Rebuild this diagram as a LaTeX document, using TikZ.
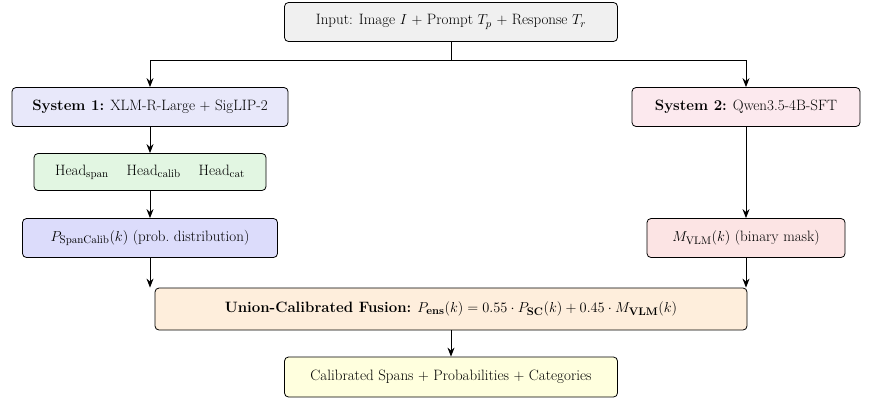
\documentclass[tikz,border=0pt]{standalone}
\usetikzlibrary{arrows.meta}
\begin{document}
\begin{tikzpicture}[x=1pt,y=-1pt,
 box/.style={draw,line width=0.8pt,rounded corners=4pt,inner sep=0pt,font=\fontsize{15}{18}\selectfont},
 arr/.style={-{Stealth[length=9pt,width=7pt]},line width=1pt}]
\useasboundingbox (0,0) rectangle (870,416);
\definecolor{cin}{HTML}{F0F0F0}\definecolor{cs1}{HTML}{E8E8FA}\definecolor{cs2}{HTML}{FCE9EE}
\definecolor{chd}{HTML}{E2F6E2}\definecolor{cp}{HTML}{DCDCFB}\definecolor{cm}{HTML}{FCE4E4}
\definecolor{cf}{HTML}{FEEEDC}\definecolor{co}{HTML}{FFFFDE}
\node[box,fill=cin,minimum width=333pt,minimum height=39pt] (in) at (451,22) {Input: Image $I$ + Prompt $T_p$ + Response $T_r$};
\node[box,fill=cs1,minimum width=276pt,minimum height=39pt] (s1) at (150,107) {\textbf{System 1:} XLM-R-Large + SigLIP-2};
\node[box,fill=cs2,minimum width=228pt,minimum height=39pt] (s2) at (746,107) {\textbf{System 2:} Qwen3.5-4B-SFT};
\node[box,fill=chd,minimum width=232pt,minimum height=37pt] (hd) at (150,172) {Head$_{\mathrm{span}}$\hspace{18pt}Head$_{\mathrm{calib}}$\hspace{18pt}Head$_{\mathrm{cat}}$};
\node[box,fill=cp,minimum width=255pt,minimum height=39pt] (p) at (150,238) {$P_{\mathrm{SpanCalib}}(k)$ (prob.\ distribution)};
\node[box,fill=cm,minimum width=198pt,minimum height=39pt] (m) at (746,238) {$M_{\mathrm{VLM}}(k)$ (binary mask)};
\node[box,fill=cf,minimum width=592pt,minimum height=42pt] (f) at (451,309) {\textbf{Union-Calibrated Fusion:} $P_{\mathbf{ens}}(k)=0.55\cdot P_{\mathbf{SC}}(k)+0.45\cdot M_{\mathbf{VLM}}(k)$};
\node[box,fill=co,minimum width=333pt,minimum height=40pt] (o) at (451,377) {Calibrated Spans + Probabilities + Categories};
\coordinate (j) at (451,60);
\draw[line width=1pt] (in) -- (j);
\draw[arr] (j) -| (s1);
\draw[arr] (j) -| (s2);
\draw[arr] (s1) -- (hd);
\draw[arr] (hd) -- (p);
\draw[arr] (s2) -- (m);
\draw[arr] (p.south) -- (p.south|-f.north);
\draw[arr] (m.south) -- (m.south|-f.north);
\draw[arr] (f) -- (o);
\end{tikzpicture}
\end{document}
